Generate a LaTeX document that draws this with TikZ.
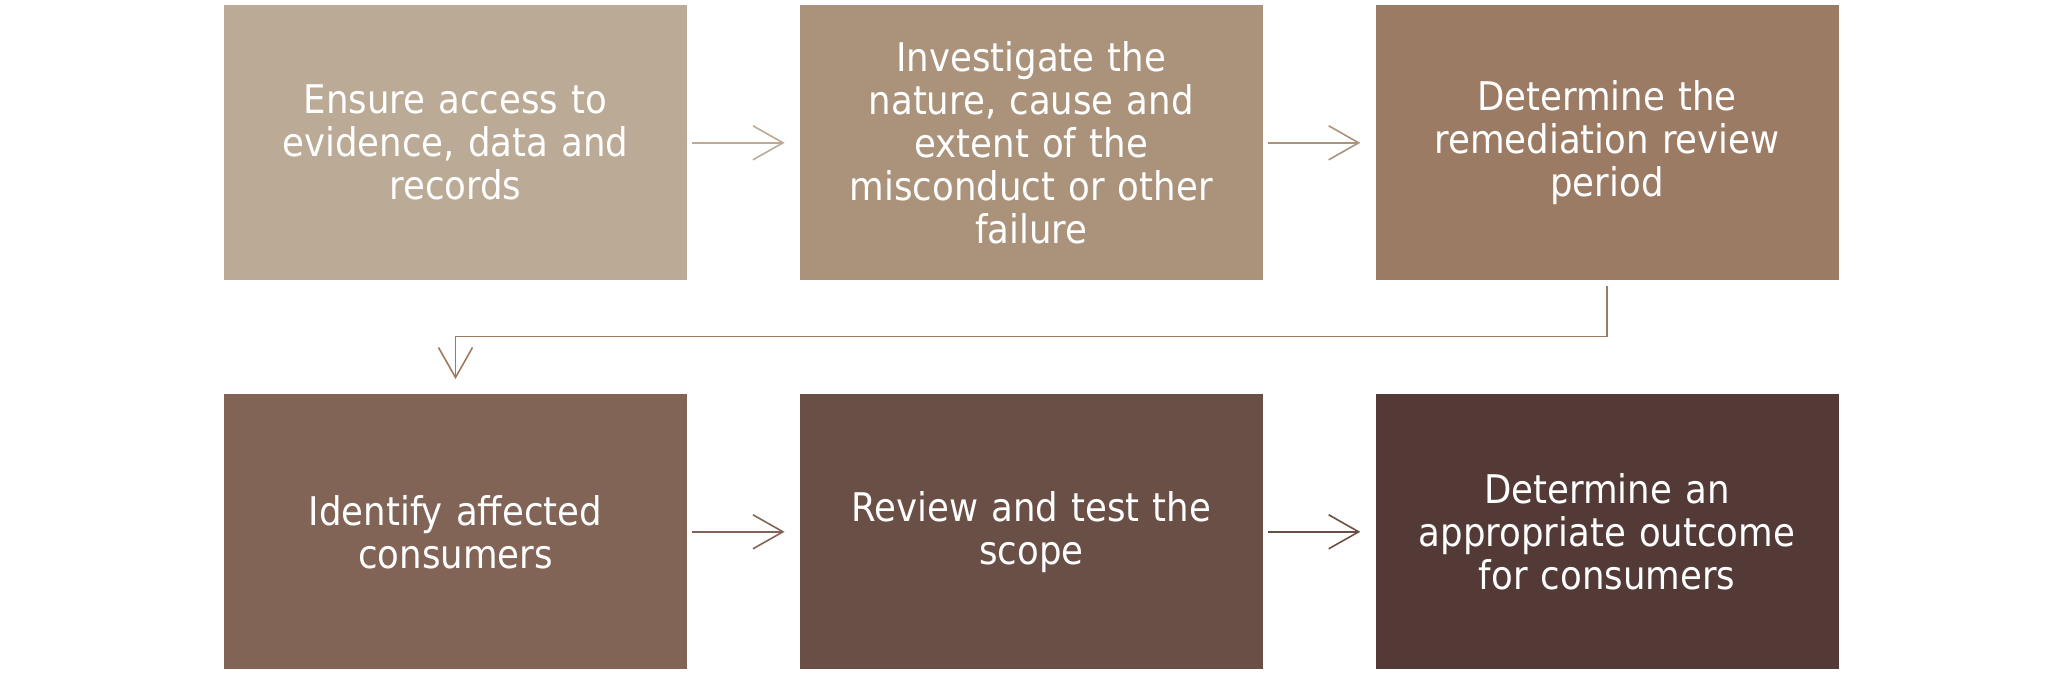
\documentclass[tikz,border=0pt]{standalone}
\usepackage{fontspec}
\setmainfont{DejaVu Sans Condensed}
\usetikzlibrary{arrows.meta}

\definecolor{stepA}{HTML}{BBAA95}
\definecolor{stepB}{HTML}{AB937B}
\definecolor{stepC}{HTML}{9C7B65}
\definecolor{stepD}{HTML}{826457}
\definecolor{stepE}{HTML}{6A4F46}
\definecolor{stepF}{HTML}{533A36}

\tikzset{
  stepbox/.style={minimum width=463pt, minimum height=275pt, inner sep=0pt,
    text width=440pt, align=center, text=white,
    font=\fontsize{39.5}{43}\selectfont},
  flowarrow/.style={line width=1.6pt, -{Straight Barb[length=30pt,width=34pt,line width=1.6pt]},
    shorten <=5pt, shorten >=15pt}
}

\begin{document}
\begin{tikzpicture}[x=1pt,y=-1pt]
\useasboundingbox (0,0) rectangle (2063,675);
% top row
\node[stepbox, fill=stepA] (access) at (455.5,142.8) {Ensure access to\\evidence, data and\\records};
\node[stepbox, fill=stepB] (investigate) at (1031.3,142.8) {Investigate the\\nature, cause and\\extent of the\\misconduct or other\\failure};
\node[stepbox, fill=stepC] (period) at (1607,142.8) {Determine the\\remediation review\\period};
% bottom row
\node[stepbox, fill=stepD] (identify) at (455.5,531.8) {Identify affected\\consumers};
\node[stepbox, fill=stepE] (scope) at (1031.3,531.8) {Review and test the\\scope};
\node[stepbox, fill=stepF] (outcome) at (1607,531.8) {Determine an\\appropriate outcome\\for consumers};

\draw[flowarrow, stepA] (access) -- (investigate);
\draw[flowarrow, stepB] (investigate) -- (period);
\draw[flowarrow, stepC] (period.south) -- ++(0,56) -| (identify.north);
\draw[flowarrow, stepD] (identify) -- (scope);
\draw[flowarrow, stepE] (scope) -- (outcome);

\end{tikzpicture}
\end{document}
